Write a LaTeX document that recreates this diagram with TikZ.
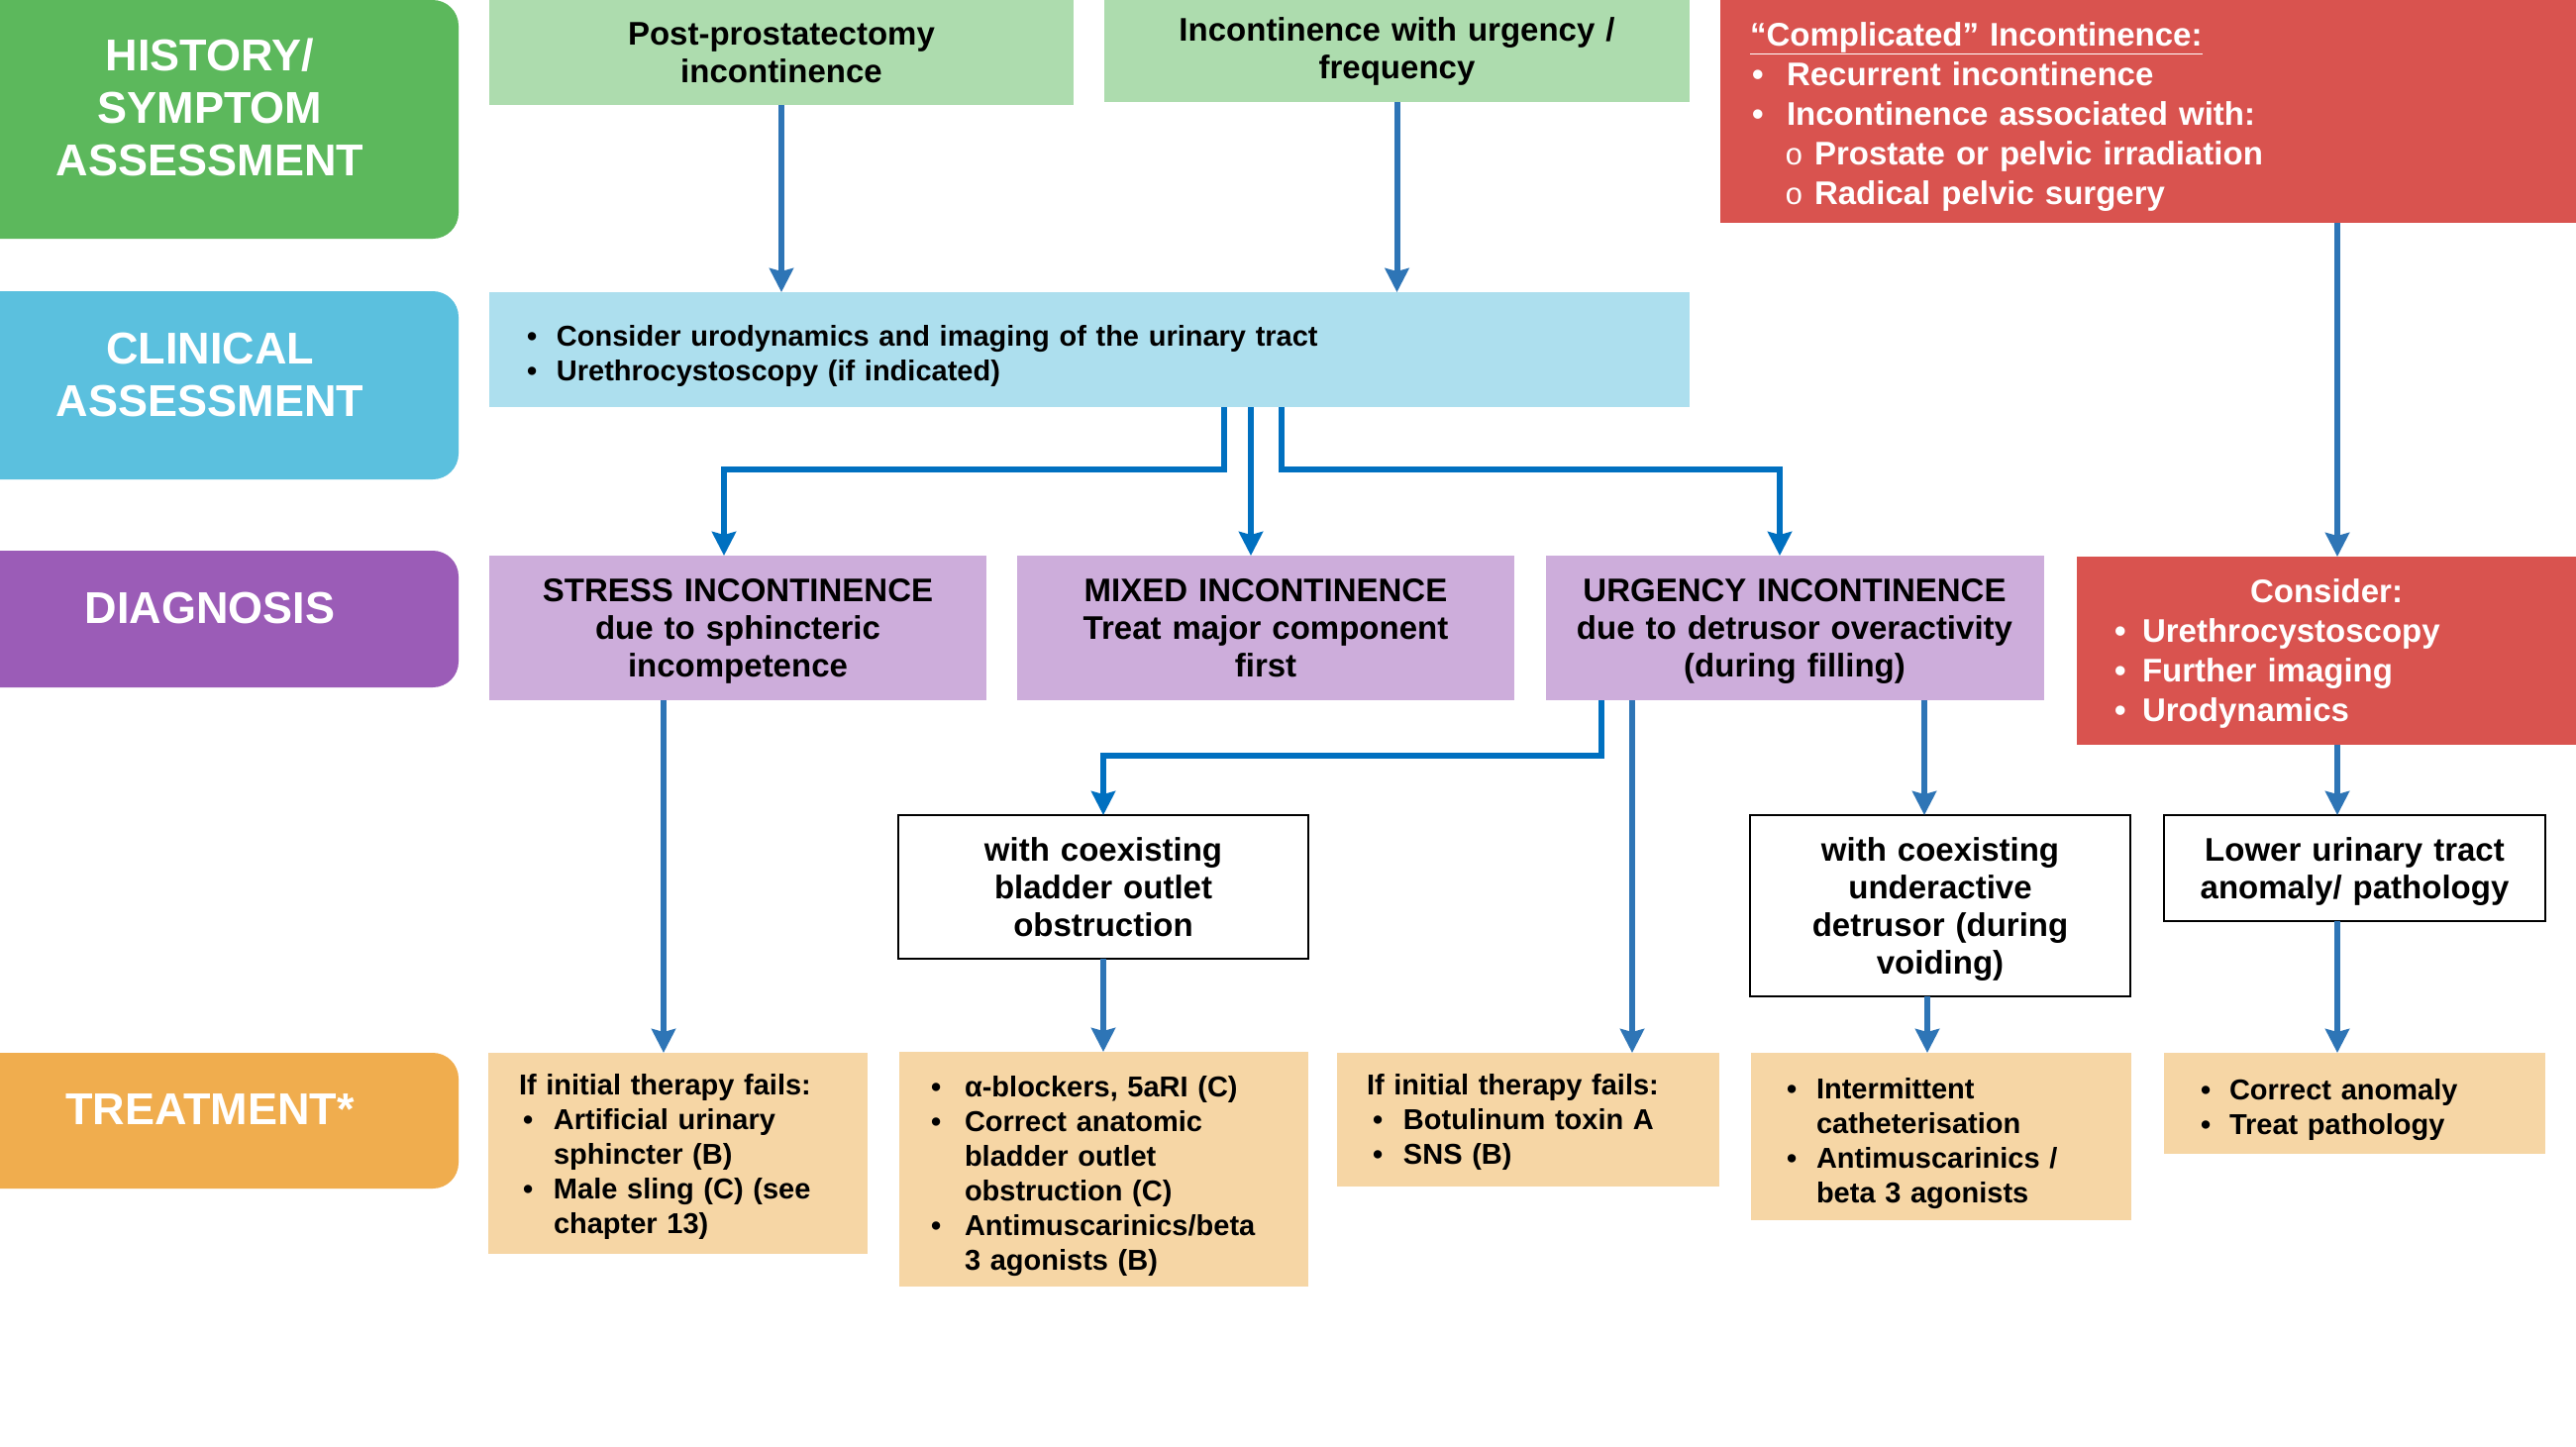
\documentclass[tikz,border=0pt]{standalone}
\usepackage{fontspec}
\setmainfont{Liberation Sans}
\newfontfamily\monoo{Liberation Mono}
\usetikzlibrary{arrows.meta}
\definecolor{tgreen}{HTML}{5CB85C}
\definecolor{lgreen}{HTML}{ADDCAE}
\definecolor{tblue}{HTML}{5BC0DE}
\definecolor{lblue}{HTML}{ADDFEE}
\definecolor{tpurple}{HTML}{9B5CB7}
\definecolor{lpurple}{HTML}{CDADDB}
\definecolor{cred}{HTML}{D9534F}
\definecolor{torange}{HTML}{F0AD4E}
\definecolor{tanbox}{HTML}{F6D6A5}
\definecolor{arrblue}{HTML}{2E75B6}
\definecolor{brblue}{HTML}{0070C0}
\newcommand\bu[3]{\par\noindent\hangindent=#2\hangafter=1\makebox[#2][l]{\hspace*{#1}\textbullet}#3\par}
\newcommand\su[1]{\par\noindent\hangindent=65pt\hangafter=1\makebox[65pt][l]{\hspace*{35pt}{\monoo\mdseries\fontsize{31}{40}\selectfont o}}#1\par}
\newcommand\up[1]{\rule{0pt}{#1}}
\begin{document}
\begin{tikzpicture}[x=1pt,y=-1pt,
 every node/.style={inner ysep=0pt,outer sep=0pt,draw=none},
 f33/.style={font=\fontsize{33}{38}\selectfont\bfseries},
 f33w/.style={font=\fontsize{33}{40}\selectfont\bfseries},
 f29/.style={font=\fontsize{29}{35}\selectfont\bfseries},
 ctr/.style={align=center,inner xsep=0pt},
 lft/.style={align=left},
 tab/.style={rectangle,rounded corners=26pt,inner sep=0pt},
 tabtxt/.style={font=\fontsize{45}{53}\selectfont\bfseries,text=white,align=center,inner sep=0pt},
 wbox/.style={draw=black,line width=1.5pt,fill=white},
 arr/.style={draw=arrblue,line width=6pt,-{Stealth[length=24pt,width=24pt,inset=3pt]}},
 arrb/.style={draw=brblue,line width=6pt,-{Stealth[length=24pt,width=24pt,inset=3pt]}}
]
\useasboundingbox (0,0) rectangle (2601,1460);
\fill[white] (0,0) rectangle (2601,1460);

% side tabs
\node[tab,fill=tgreen,minimum width=503,minimum height=241] (htab) at (211.5,120.5) {};
\node[tabtxt] (htabt) at (212,108) {HISTORY/\\SYMPTOM\\ASSESSMENT};
\node[tab,fill=tblue,minimum width=503,minimum height=190] (ctab) at (211.5,389) {};
\node[tabtxt] (ctabt) at (212,378) {CLINICAL\\ASSESSMENT};
\node[tab,fill=tpurple,minimum width=503,minimum height=138] (dtab) at (211.5,625) {};
\node[tabtxt] (dtabt) at (212,614) {DIAGNOSIS};
\node[tab,fill=torange,minimum width=503,minimum height=137] (ttab) at (211.5,1131.5) {};
\node[tabtxt] (ttabt) at (212,1120) {TREATMENT*};

% history
\node[f33,ctr,fill=lgreen,minimum width=590,minimum height=106,text width=560] (post) at (789,53) {Post-prostatectomy\\incontinence};
\node[f33,ctr,fill=lgreen,minimum width=591,minimum height=103,text width=560] (urg) at (1410.5,51.5) {Incontinence with urgency /\\frequency};
\node[f33w,lft,fill=cred,text=white,minimum width=864,minimum height=225,inner xsep=30,text width=804] (comp) at (2169,112.5)
 {\noindent\up{34pt}\underline{“Complicated” Incontinence:}\bu{2pt}{37pt}{Recurrent incontinence}\bu{2pt}{37pt}{Incontinence associated with:}\su{Prostate or pelvic irradiation}\su{Radical pelvic surgery}};

% clinical
\node[f29,lft,fill=lblue,minimum width=1212,minimum height=116,inner xsep=38,text width=1136] (clin) at (1100,353)
 {\bu{0pt}{30pt}{Consider urodynamics and imaging of the urinary tract}\bu{0pt}{30pt}{Urethrocystoscopy (if indicated)}};

% diagnosis
\node[f33,ctr,fill=lpurple,minimum width=502,minimum height=146,text width=480] (stress) at (745,634) {\up{30pt}STRESS INCONTINENCE\\due to sphincteric\\incompetence};
\node[f33,ctr,fill=lpurple,minimum width=502,minimum height=146,text width=480] (mixed) at (1278,634) {MIXED INCONTINENCE\\Treat major component\\first};
\node[f33,ctr,fill=lpurple,minimum width=503,minimum height=146,text width=490] (urgency) at (1812,634) {\up{30pt}URGENCY INCONTINENCE\\due to detrusor overactivity\\(during filling)};
\node[f33w,lft,fill=cred,text=white,minimum width=504,minimum height=190,inner xsep=38,text width=428] (cons) at (2349,657)
 {\noindent\up{30pt}\makebox[\hsize][c]{Consider:}\bu{0pt}{28pt}{Urethrocystoscopy}\bu{0pt}{28pt}{Further imaging}\bu{0pt}{28pt}{Urodynamics}};

% white boxes
\node[f33,ctr,wbox,minimum width=414,minimum height=145,text width=390] (blad) at (1114,895.5) {with coexisting\\bladder outlet\\obstruction};
\node[f33,ctr,wbox,minimum width=384,minimum height=183,text width=360] (under) at (1959,914.5) {\up{30pt}with coexisting\\underactive\\detrusor (during\\voiding)};
\node[f33,ctr,wbox,minimum width=385,minimum height=107,text width=360] (lower) at (2377.5,876.5) {\up{30pt}Lower urinary tract\\anomaly/ pathology};

% treatment
\node[f29,lft,fill=tanbox,minimum width=383,minimum height=203,inner xsep=31,text width=321] (T1) at (684.5,1164.5)
 {\noindent\up{27pt}If initial therapy fails:\bu{4pt}{35pt}{Artificial urinary\newline sphincter (B)}\bu{4pt}{35pt}{Male sling (C) (see\newline chapter 13)}};
\node[f29,lft,fill=tanbox,minimum width=413,minimum height=237,inner xsep=32,text width=349] (T2) at (1114.5,1180.5)
 {\bu{0pt}{34pt}{α-blockers, 5aRI (C)}\bu{0pt}{34pt}{Correct anatomic\newline bladder outlet\newline obstruction (C)}\bu{0pt}{34pt}{Antimuscarinics/beta\newline 3 agonists (B)}};
\node[f29,lft,fill=tanbox,minimum width=386,minimum height=135,inner xsep=30,text width=326] (T3) at (1543,1130.5)
 {\noindent\up{25pt}If initial therapy fails:\bu{6pt}{37pt}{Botulinum toxin A}\bu{6pt}{37pt}{SNS (B)}};
\node[f29,lft,fill=tanbox,minimum width=384,minimum height=169,inner xsep=36,text width=312] (T4) at (1960,1147.5)
 {\bu{0pt}{30pt}{Intermittent\newline catheterisation}\bu{0pt}{30pt}{Antimuscarinics /\newline beta 3 agonists}};
\node[f29,lft,fill=tanbox,minimum width=385,minimum height=102,inner xsep=37,text width=311] (T5) at (2377.5,1114)
 {\bu{0pt}{29pt}{Correct anomaly}\bu{0pt}{29pt}{Treat pathology}};

% connectors
\draw[arr] (post.south) -- (post.south |- clin.north);
\draw[arr] (urg.south) -- (urg.south |- clin.north);
\draw[arrb] ([xshift=136pt]clin.south) -- ++(0,63) -| ([xshift=-14pt]stress.north);
\draw[arrb] ([xshift=163pt]clin.south) -- ([xshift=-15pt]mixed.north);
\draw[arrb] ([xshift=194pt]clin.south) -- ++(0,63) -| ([xshift=-15pt]urgency.north);
\draw[arr] ([xshift=11pt]cons.north |- comp.south) -- ([xshift=11pt]cons.north);
\draw[arr] ([xshift=-14.5pt]T1.north |- stress.south) -- ([xshift=-14.5pt]T1.north);
\draw[arrb] ([xshift=-195pt]urgency.south) -- ++(0,56) -| (blad.north);
\draw[arr] ([xshift=-164pt]urgency.south) -- ([xshift=-164pt]urgency.south |- T3.north);
\draw[arr] ([xshift=-16pt]under.north |- urgency.south) -- ([xshift=-16pt]under.north);
\draw[arr] (blad.south) -- (blad.south |- T2.north);
\draw[arr] ([xshift=-14pt]T4.north |- under.south) -- ([xshift=-14pt]T4.north);
\draw[arr] ([xshift=-17.5pt]lower.north |- cons.south) -- ([xshift=-17.5pt]lower.north);
\draw[arr] ([xshift=-17.5pt]T5.north |- lower.south) -- ([xshift=-17.5pt]T5.north);
\end{tikzpicture}
\end{document}
